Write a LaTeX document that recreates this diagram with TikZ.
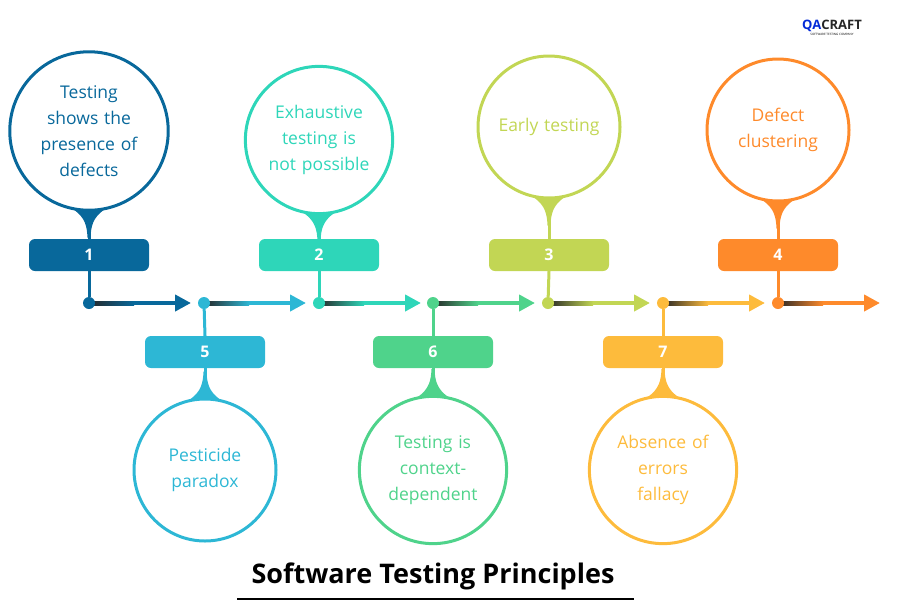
\documentclass[tikz,border=0pt]{standalone}
\usepackage{fontspec}
\setmainfont{Open Sans}
\usetikzlibrary{arrows.meta}
\definecolor{cA}{HTML}{08689B}
\definecolor{cB}{HTML}{2DB7D5}
\definecolor{cC}{HTML}{2ED6B9}
\definecolor{cD}{HTML}{4FD38B}
\definecolor{cE}{HTML}{C2D654}
\definecolor{cF}{HTML}{FDBB3C}
\definecolor{cG}{HTML}{FE8A2B}
\tikzset{
  bubble/.style={circle, line width=3pt, minimum size=142pt, inner sep=0pt,
    text width=130pt, align=center, font=\fontsize{17.5}{26}\selectfont},
  numbox/.style={rounded corners=6pt, minimum width=120pt, minimum height=32pt,
    text=white, font=\fontsize{16}{18}\selectfont\bfseries},
  dot/.style={circle, minimum size=12pt, inner sep=0pt},
}
\begin{document}
\begin{tikzpicture}[x=1pt,y=-1pt]
  \useasboundingbox (0,0) rectangle (900,606);

  % timeline
  \foreach \n/\x/\col in {1/89/cA,5/204/cB,2/319/cC,6/433/cD,3/548/cE,7/663/cF,4/778/cG}{
    \coordinate (tip\n) at (\x+102,303);
    \draw[line width=4pt, \col, -{Triangle[length=16pt,width=16pt]}] (\x,303) -- (tip\n);
    \shade[left color=black!85, right color=\col] (\x,301) rectangle (\x+45,305);
    \node[dot, fill=\col] (dot\n) at (\x,303) {};
  }

  % upper principles
  \foreach \n/\x/\y/\col/\txt in {1/89/131/cA/{Testing\\shows the\\presence of\\defects},
      2/319/140/cC/{Exhaustive\\testing is\\not possible},
      3/549/127/cE/{Early testing},
      4/778/130/cG/{Defect\\clustering}}{
    \node[bubble, draw=\col, text=\col] (bub\n) at (\x,\y) {\txt};
    \node[numbox, fill=\col] (box\n) at (\x,255) {\n};
    \fill[\col] ([xshift=-15pt,yshift=2pt]bub\n.south)
      .. controls ([xshift=-4pt,yshift=-6pt]bub\n.south) and ([xshift=-2pt,yshift=-14pt]bub\n.south)
      .. ([xshift=-1.5pt,yshift=-26pt]bub\n.south) -- ([xshift=1.5pt,yshift=-26pt]bub\n.south)
      .. controls ([xshift=2pt,yshift=-14pt]bub\n.south) and ([xshift=4pt,yshift=-6pt]bub\n.south)
      .. ([xshift=15pt,yshift=2pt]bub\n.south) -- cycle;
    \draw[\col, line width=3pt] ([yshift=-20pt]bub\n.south) -- (box\n.north);
    \draw[\col, line width=3pt] (box\n.south) -- (dot\n);
  }

  % lower principles
  \foreach \n/\x/\col/\txt in {5/205/cB/{Pesticide\\paradox},
      6/433/cD/{Testing is\\context-\\dependent},
      7/663/cF/{Absence of\\errors\\fallacy}}{
    \node[bubble, draw=\col, text=\col] (bub\n) at (\x,470) {\txt};
    \node[numbox, fill=\col] (box\n) at (\x,352) {\n};
    \fill[\col] ([xshift=-15pt,yshift=-2pt]bub\n.north)
      .. controls ([xshift=-4pt,yshift=6pt]bub\n.north) and ([xshift=-2pt,yshift=14pt]bub\n.north)
      .. ([xshift=-1.5pt,yshift=26pt]bub\n.north) -- ([xshift=1.5pt,yshift=26pt]bub\n.north)
      .. controls ([xshift=2pt,yshift=14pt]bub\n.north) and ([xshift=4pt,yshift=6pt]bub\n.north)
      .. ([xshift=15pt,yshift=-2pt]bub\n.north) -- cycle;
    \draw[\col, line width=3pt] ([yshift=20pt]bub\n.north) -- (box\n.south);
    \draw[\col, line width=3pt] (box\n.north) -- (dot\n);
  }

  % title and logo
  \node[font=\fontsize{27}{30}\selectfont\bfseries] (title) at (433,576) {Software Testing Principles};
  \draw[line width=2pt] (237,599) -- (634,599);
  \node[font=\fontsize{13}{14}\selectfont\bfseries, text=black!85] (logo) at (832,26)
    {\textcolor{blue!60!cA}{QA}CRAFT};
  \node[font=\fontsize{3}{4}\selectfont, anchor=north, inner sep=0pt] (slogan) at ([yshift=2pt]logo.south)
    {SOFTWARE TESTING COMPANY};
\end{tikzpicture}
\end{document}
